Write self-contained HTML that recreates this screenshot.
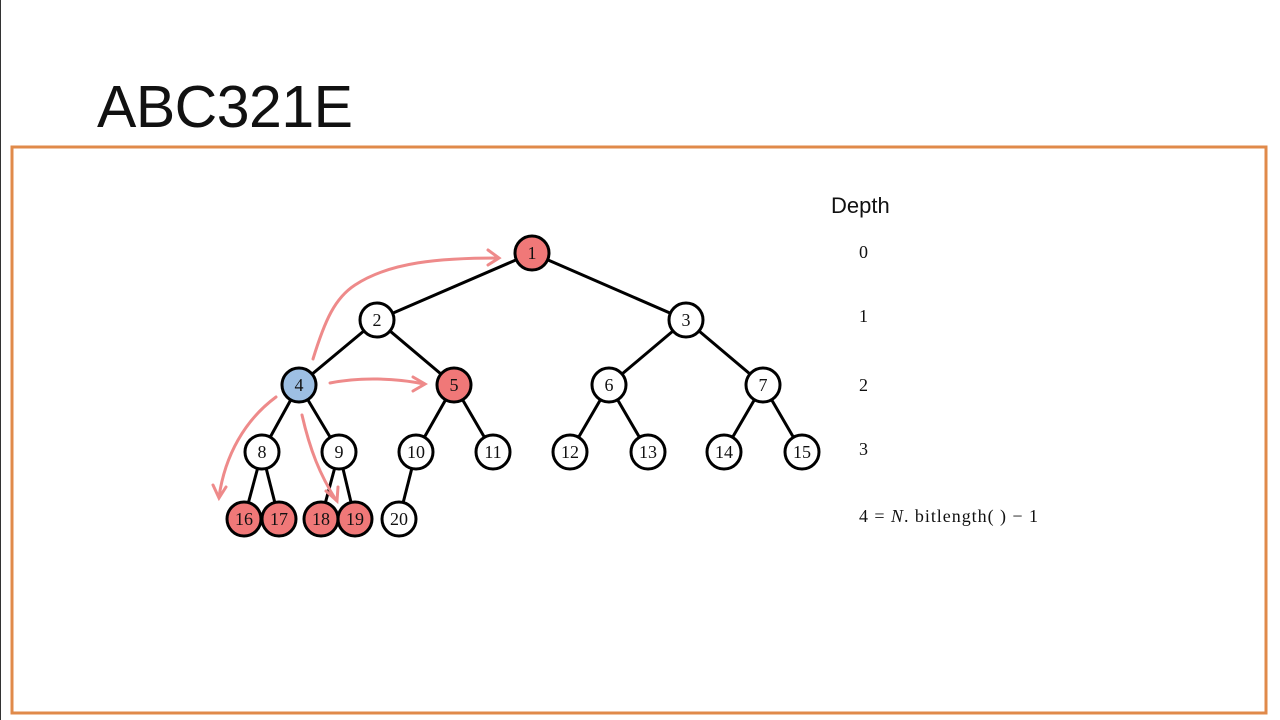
<!DOCTYPE html>
<html><head><style>
body{margin:0;width:1280px;height:720px;background:#fff;overflow:hidden;position:relative;font-family:"Liberation Sans",sans-serif}
</style></head><body>
<svg width="1280" height="720" style="position:absolute;left:0;top:0">
<line x1="0.5" y1="0" x2="0.5" y2="720" stroke="#333" stroke-width="1"/>
<rect x="12" y="147" width="1254" height="566" fill="none" stroke="#E08A4A" stroke-width="3"/>
<text x="97" y="127" font-family="Liberation Sans" font-size="59" fill="#111" textLength="256">ABC321E</text>
<text x="831" y="213" font-family="Liberation Sans" font-size="22" fill="#111">Depth</text>
<g font-family="Liberation Serif" font-size="18" fill="#111">
<text x="859" y="258">0</text><text x="859" y="322">1</text><text x="859" y="391">2</text><text x="859" y="455">3</text>
<text x="859" y="522" textLength="179">4 = <tspan font-style="italic">N</tspan>. bitlength( ) − 1</text>
</g>
<g stroke="#000" stroke-width="3">
<line x1="532" y1="253" x2="377" y2="320"/><line x1="532" y1="253" x2="686" y2="320"/>
<line x1="377" y1="320" x2="299" y2="385"/><line x1="377" y1="320" x2="454" y2="385"/>
<line x1="686" y1="320" x2="609" y2="385"/><line x1="686" y1="320" x2="763" y2="385"/>
<line x1="299" y1="385" x2="262" y2="452"/><line x1="299" y1="385" x2="339" y2="452"/>
<line x1="454" y1="385" x2="416" y2="452"/><line x1="454" y1="385" x2="493" y2="452"/>
<line x1="609" y1="385" x2="570" y2="452"/><line x1="609" y1="385" x2="648" y2="452"/>
<line x1="763" y1="385" x2="724" y2="452"/><line x1="763" y1="385" x2="802" y2="452"/>
<line x1="262" y1="452" x2="244" y2="519"/><line x1="262" y1="452" x2="279" y2="519"/>
<line x1="339" y1="452" x2="321" y2="519"/><line x1="339" y1="452" x2="355" y2="519"/>
<line x1="416" y1="452" x2="399" y2="519"/>
</g>
<g stroke="#000" stroke-width="3" font-family="Liberation Serif" font-size="18" text-anchor="middle">
<g fill="#F07878"><circle cx="532" cy="253" r="17"/><circle cx="454" cy="385" r="17"/><circle cx="244" cy="519" r="17"/><circle cx="279" cy="519" r="17"/><circle cx="321" cy="519" r="17"/><circle cx="355" cy="519" r="17"/></g>
<circle cx="299" cy="385" r="17" fill="#9DBFE3"/>
<g fill="#fff"><circle cx="377" cy="320" r="17"/><circle cx="686" cy="320" r="17"/><circle cx="609" cy="385" r="17"/><circle cx="763" cy="385" r="17"/><circle cx="262" cy="452" r="17"/><circle cx="339" cy="452" r="17"/><circle cx="416" cy="452" r="17"/><circle cx="493" cy="452" r="17"/><circle cx="570" cy="452" r="17"/><circle cx="648" cy="452" r="17"/><circle cx="724" cy="452" r="17"/><circle cx="802" cy="452" r="17"/><circle cx="399" cy="519" r="17"/></g>
<g stroke="none" fill="#111">
<text x="532" y="259">1</text><text x="377" y="326">2</text><text x="686" y="326">3</text><text x="299" y="391">4</text><text x="454" y="391">5</text><text x="609" y="391">6</text><text x="763" y="391">7</text>
<text x="262" y="458">8</text><text x="339" y="458">9</text><text x="416" y="458">10</text><text x="493" y="458">11</text><text x="570" y="458">12</text><text x="648" y="458">13</text><text x="724" y="458">14</text><text x="802" y="458">15</text>
<text x="244" y="525">16</text><text x="279" y="525">17</text><text x="321" y="525">18</text><text x="355" y="525">19</text><text x="399" y="525">20</text>
</g>
</g>
<g stroke="#EE8A8A" stroke-width="3" fill="none" stroke-linecap="round">
<path d="M313,359 C325,320 335,298 355,285 C390,262 440,258 498,258"/>
<path d="M488,250 L499,258 L488,265"/>
<path d="M330,383 C360,377 395,378 424,384"/>
<path d="M413,377 L425,384 L413,391"/>
<path d="M276,397 C245,420 225,455 219,497"/>
<path d="M213,485 L219,498 L226,487"/>
<path d="M302,415 C310,450 320,475 336,500"/>
<path d="M326,491 L337,501 L338,487"/>
</g>
</svg>
</body></html>
